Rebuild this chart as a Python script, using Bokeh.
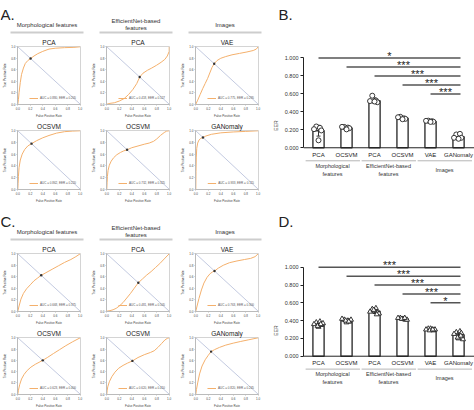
import numpy as np
from bokeh.plotting import figure
from bokeh.layouts import column, row
from bokeh.models import (Range1d, NumeralTickFormatter, FixedTicker, Span,
                          Legend, LegendItem)
from bokeh.core.properties import value
from bokeh.embed import file_html
from bokeh.resources import INLINE

FONT = "Liberation Sans"
ORANGE = "#f4b06c"
DIAG = "#bcc4dc"

# ---------------- data ----------------
feature_groups = ["Morphological features", "EfficientNet-based\nfeatures", "Images"]
bar_groups = ["Morphological\nfeatures", "EfficientNet-based\nfeatures", "Images"]
group_members = [[0, 1], [2, 3], [4, 5]]
methods = ["PCA", "OCSVM", "PCA", "OCSVM", "VAE", "GANomaly"]
roc_titles_top = ["PCA", "PCA", "VAE"]
roc_titles_bottom = ["OCSVM", "OCSVM", "GANomaly"]
roc_ticks = [0.0, 0.2, 0.4, 0.6, 0.8, 1.0]
eer_ticks = [0.0, 0.2, 0.4, 0.6, 0.8, 1.0]

# ROC curves, panel A
a_morph_pca_fpr = [0, 0.01, 0.02, 0.04, 0.06, 0.09, 0.12, 0.16, 0.205, 0.26, 0.32, 0.40, 0.50, 0.60, 0.75, 0.90, 1.0]
a_morph_pca_tpr = [0, 0.08, 0.2, 0.38, 0.52, 0.63, 0.71, 0.76, 0.795, 0.84, 0.88, 0.92, 0.96, 0.975, 0.985, 0.99, 1.0]
a_eff_pca_fpr = [0, 0.05, 0.12, 0.2, 0.28, 0.35, 0.42, 0.48, 0.527, 0.58, 0.65, 0.72, 0.8, 0.87, 0.93, 0.97, 1.0, 1.0]
a_eff_pca_tpr = [0, 0.015, 0.025, 0.055, 0.1, 0.17, 0.26, 0.36, 0.473, 0.54, 0.59, 0.63, 0.68, 0.73, 0.78, 0.84, 0.92, 1.0]
a_vae_fpr = [0, 0.03, 0.07, 0.11, 0.15, 0.19, 0.23, 0.26, 0.295, 0.34, 0.40, 0.48, 0.58, 0.70, 0.82, 0.92, 0.97, 1.0]
a_vae_tpr = [0, 0.07, 0.17, 0.27, 0.36, 0.45, 0.56, 0.64, 0.705, 0.76, 0.80, 0.83, 0.86, 0.885, 0.91, 0.935, 0.96, 1.0]
a_morph_ocsvm_fpr = [0, 0.005, 0.01, 0.02, 0.04, 0.07, 0.11, 0.16, 0.22, 0.3, 0.4, 0.5, 0.62, 0.75, 0.88, 1.0]
a_morph_ocsvm_tpr = [0, 0.1, 0.22, 0.37, 0.5, 0.6, 0.68, 0.74, 0.78, 0.83, 0.88, 0.92, 0.96, 0.985, 0.995, 1.0]
a_eff_ocsvm_fpr = [0, 0.005, 0.01, 0.02, 0.04, 0.07, 0.11, 0.16, 0.22, 0.27, 0.325, 0.4, 0.5, 0.6, 0.68, 0.75, 0.8, 0.86, 0.92, 0.96, 1.0]
a_eff_ocsvm_tpr = [0, 0.12, 0.22, 0.32, 0.41, 0.48, 0.54, 0.59, 0.63, 0.655, 0.675, 0.71, 0.74, 0.77, 0.79, 0.82, 0.86, 0.92, 0.97, 0.995, 1.0]
a_gan_fpr = [0, 0.003, 0.008, 0.015, 0.03, 0.05, 0.08, 0.115, 0.16, 0.25, 0.4, 0.6, 0.8, 1.0]
a_gan_tpr = [0, 0.3, 0.55, 0.7, 0.79, 0.84, 0.87, 0.885, 0.91, 0.94, 0.965, 0.98, 0.99, 1.0]
a_eer = [0.205, 0.527, 0.295, 0.220, 0.325, 0.115]
a_auc = [0.880, 0.418, 0.775, 0.862, 0.732, 0.933]

# ROC curves, panel C
c_morph_pca_fpr = [0, 0.02, 0.05, 0.09, 0.14, 0.2, 0.26, 0.32, 0.375, 0.45, 0.55, 0.65, 0.75, 0.85, 0.93, 1.0]
c_morph_pca_tpr = [0, 0.09, 0.21, 0.31, 0.39, 0.46, 0.53, 0.58, 0.625, 0.67, 0.73, 0.79, 0.85, 0.9, 0.95, 1.0]
c_eff_pca_fpr = [0, 0.05, 0.1, 0.15, 0.2, 0.26, 0.32, 0.38, 0.44, 0.505, 0.57, 0.64, 0.71, 0.78, 0.85, 0.92, 1.0]
c_eff_pca_tpr = [0, 0.01, 0.025, 0.05, 0.09, 0.15, 0.23, 0.31, 0.4, 0.495, 0.56, 0.63, 0.69, 0.76, 0.83, 0.91, 1.0]
c_vae_fpr = [0, 0.02, 0.05, 0.09, 0.13, 0.18, 0.23, 0.27, 0.3, 0.36, 0.44, 0.54, 0.66, 0.78, 0.88, 0.95, 1.0]
c_vae_tpr = [0, 0.09, 0.22, 0.37, 0.49, 0.59, 0.655, 0.685, 0.7, 0.75, 0.8, 0.845, 0.875, 0.9, 0.92, 0.95, 1.0]
c_morph_ocsvm_fpr = [0, 0.01, 0.03, 0.06, 0.1, 0.15, 0.21, 0.28, 0.34, 0.4, 0.48, 0.57, 0.67, 0.77, 0.88, 1.0]
c_morph_ocsvm_tpr = [0, 0.07, 0.17, 0.27, 0.35, 0.42, 0.48, 0.53, 0.565, 0.6, 0.655, 0.72, 0.79, 0.86, 0.93, 1.0]
c_eff_ocsvm_fpr = [0, 0.005, 0.015, 0.04, 0.08, 0.13, 0.19, 0.26, 0.33, 0.41, 0.5, 0.6, 0.7, 0.76, 0.82, 0.88, 0.93, 0.97, 1.0]
c_eff_ocsvm_tpr = [0, 0.06, 0.13, 0.22, 0.31, 0.39, 0.46, 0.51, 0.55, 0.59, 0.65, 0.7, 0.74, 0.77, 0.83, 0.9, 0.96, 0.99, 1.0]
c_gan_fpr = [0, 0.01, 0.03, 0.06, 0.1, 0.15, 0.2, 0.245, 0.3, 0.38, 0.48, 0.6, 0.72, 0.85, 1.0]
c_gan_tpr = [0, 0.08, 0.2, 0.36, 0.5, 0.61, 0.69, 0.755, 0.79, 0.83, 0.87, 0.905, 0.935, 0.965, 1.0]
c_eer = [0.375, 0.505, 0.300, 0.400, 0.410, 0.245]
c_auc = [0.668, 0.481, 0.763, 0.623, 0.620, 0.820]

# EER bar charts, panel B (circles) and panel D (triangles)
b_mean = [0.19, 0.22, 0.525, 0.33, 0.292, 0.122]
b_sd = [0.06, 0.01, 0.03, 0.012, 0.006, 0.022]
b_points = [[0.237, 0.222, 0.207, 0.193, 0.083],
            [0.232, 0.225, 0.233, 0.218, 0.205],
            [0.580, 0.526, 0.520, 0.507, 0.515],
            [0.345, 0.328, 0.340, 0.322, 0.318],
            [0.302, 0.296, 0.300, 0.290, 0.288],
            [0.148, 0.155, 0.111, 0.111, 0.100]]
b_starts = [0, 1, 2, 3, 4]
b_levels = [1.0, 0.9, 0.8, 0.7, 0.6]
b_stars = ["*", "***", "***", "***", "***"]

d_mean = [0.358, 0.40, 0.505, 0.42, 0.30, 0.24]
d_sd = [0.02, 0.012, 0.025, 0.008, 0.007, 0.032]
d_points = [[0.38, 0.39, 0.36, 0.35, 0.33, 0.37, 0.34, 0.36],
            [0.41, 0.40, 0.42, 0.39, 0.38, 0.41, 0.40, 0.39],
            [0.53, 0.54, 0.50, 0.49, 0.51, 0.48, 0.52, 0.47],
            [0.43, 0.42, 0.43, 0.41, 0.42, 0.41, 0.42, 0.43],
            [0.31, 0.30, 0.30, 0.29, 0.31, 0.30, 0.29, 0.30],
            [0.27, 0.28, 0.25, 0.26, 0.20, 0.19, 0.21, 0.23]]
d_starts = [0, 1, 2, 3, 4]
d_levels = [1.0, 0.9, 0.8, 0.7, 0.6]
d_stars = ["***", "***", "***", "***", "*"]

# ---------------- layout constants ----------------
COL_W = 89
ROC_L, ROC_R = 13, 9
LEFT_W = 3 * COL_W
RIGHT_W = 474 - LEFT_W
BAR_L = 36


def header(height, panel_left, panel_right, base_y):
    p = figure(width=474, height=height, x_range=Range1d(0, 474), y_range=Range1d(height, 0),
               x_axis_type=None, y_axis_type=None, min_border=0, outline_line_color=None,
               toolbar_location=None, output_backend="svg")
    p.grid.visible = False
    p.text(x=[0, LEFT_W + 11], y=[base_y + 11, base_y + 11], text=[panel_left, panel_right],
           text_font=value(FONT), text_font_size="15px", text_color="#222",
           text_baseline="alphabetic", text_align="left")
    frame_w = COL_W - ROC_L - ROC_R
    centers = [i * COL_W + ROC_L + frame_w / 2 for i in range(3)]
    p.text(x=centers, y=[base_y + 21] * 3, text=feature_groups, text_font=value(FONT),
           text_font_size="6px", text_color="#333", text_align="center",
           text_baseline="middle", text_line_height=1.1)
    p.segment(x0=[c - frame_w / 2 - 3 for c in centers], x1=[c + frame_w / 2 + 3 for c in centers],
              y0=[base_y + 29] * 3, y1=[base_y + 29] * 3, line_color="#cdcdcd", line_width=2)
    return p


def roc_panel(name, fpr, tpr, eer, auc, h, top, bottom):
    p = figure(width=COL_W, height=h, title=name,
               x_range=Range1d(-0.005, 1.005), y_range=Range1d(-0.005, 1.005),
               output_backend="svg", toolbar_location=None,
               min_border_left=ROC_L, min_border_right=ROC_R,
               min_border_top=top, min_border_bottom=bottom)
    p.title.align = "center"
    p.title.text_font_size = "6.5px"
    p.title.text_font_style = "normal"
    p.title.text_font = FONT
    p.title.text_color = "#222"
    p.title.standoff = 1
    p.grid.visible = False
    p.outline_line_color = "#d4d4d4"
    for ax in (p.xaxis[0], p.yaxis[0]):
        ax.ticker = FixedTicker(ticks=roc_ticks)
        ax.formatter = NumeralTickFormatter(format="0.0")
        ax.major_label_text_font_size = "3px"
        ax.major_label_text_font = FONT
        ax.major_label_text_color = "#444"
        ax.major_label_standoff = 1
        ax.major_tick_out = 1
        ax.major_tick_in = 0
        ax.minor_tick_out = 0
        ax.minor_tick_in = 0
        ax.axis_line_color = "#bbbbbb"
        ax.major_tick_line_color = "#bbbbbb"
        ax.axis_label_text_font_size = "3px"
        ax.axis_label_text_font = FONT
        ax.axis_label_text_font_style = "normal"
        ax.axis_label_text_color = "#444"
        ax.axis_label_standoff = 1
    p.xaxis.axis_label = "False Positive Rate"
    p.yaxis.axis_label = "True Positive Rate"
    lo, hi = roc_ticks[0], roc_ticks[-1]
    p.line(x=[lo, hi], y=[hi, lo], line_color=DIAG, line_width=0.9)
    r = p.line(x=fpr, y=tpr, line_color=ORANGE, line_width=1.0)
    p.scatter(x=[eer], y=[1 - eer], size=2.4, fill_color="#333333", line_color=None)
    leg = Legend(items=[LegendItem(label=f"AUC = {auc:.3f}, EER = {eer:.3f}", renderers=[r])],
                 location="bottom_right", label_text_font_size="3px", label_text_font=FONT,
                 label_text_color="#555", glyph_width=9, glyph_height=4, label_height=4,
                 label_standoff=2, padding=1, spacing=0, margin=4,
                 border_line_color=None, background_fill_alpha=0)
    p.add_layout(leg)
    return p


def bar_panel(h, top_border, y0, y1, means, sds, points, marker, starts, levels, stars):
    p = figure(width=RIGHT_W, height=h, x_range=Range1d(-0.536, 5.57), y_range=Range1d(y0, y1),
               x_axis_type=None, output_backend="svg", toolbar_location=None,
               min_border_left=BAR_L, min_border_right=0, min_border_top=top_border,
               min_border_bottom=0)
    p.grid.visible = False
    p.outline_line_color = None
    ax = p.yaxis[0]
    ax.ticker = FixedTicker(ticks=eer_ticks)
    ax.formatter = NumeralTickFormatter(format="0.000")
    ax.bounds = (eer_ticks[0], eer_ticks[-1])
    ax.major_label_text_font_size = "5.5px"
    ax.major_label_text_font = FONT
    ax.major_label_text_color = "#333"
    ax.major_label_standoff = 2
    ax.major_tick_out = 3
    ax.major_tick_in = 0
    ax.minor_tick_out = 0
    ax.minor_tick_in = 0
    ax.axis_line_color = "#222"
    ax.major_tick_line_color = "#222"
    ax.axis_label = "EER"
    ax.axis_label_text_font_size = "5px"
    ax.axis_label_text_font = FONT
    ax.axis_label_text_font_style = "normal"
    ax.axis_label_standoff = 3
    idx = list(range(len(methods)))
    p.vbar(x=idx, top=means, width=0.4, fill_color="white", line_color="#333", line_width=1.4)
    p.add_layout(Span(location=0, dimension="width", line_color="#222", line_width=1))
    lower = [m - s for m, s in zip(means, sds)]
    upper = [m + s for m, s in zip(means, sds)]
    p.segment(x0=idx, y0=lower, x1=idx, y1=upper, line_color="#333", line_width=1)
    p.scatter(x=idx + idx, y=lower + upper, marker="dash", size=4, line_color="#333", line_width=1)
    jitter = [-0.08, 0.05, -0.16, 0.1, 0.0, 0.16, -0.03, 0.08]
    px, py = [], []
    for i, pts in enumerate(points):
        for k, v in enumerate(pts):
            px.append(i + jitter[k % len(jitter)])
            py.append(v)
    p.scatter(x=px, y=py, marker=marker, size=5, fill_color="white", line_color="#222", line_width=0.9)
    last = len(methods) - 1
    end = last + 0.07
    p.segment(x0=starts, y0=levels, x1=[end] * len(starts), y1=levels, line_color="#555", line_width=1.5)
    p.text(x=[(s + end) / 2 for s in starts], y=[l + 0.02 for l in levels], text=stars,
           text_font=value(FONT), text_font_size="11px", text_color="#222",
           text_align="center", text_baseline="alphabetic")
    p.text(x=idx, y=[-0.075] * len(idx), text=methods, text_font=value(FONT), text_font_size="6px",
           text_color="#222", text_align="center", text_baseline="middle")
    gx0 = [g[0] - 0.46 for g in group_members]
    gx1 = [g[-1] + 0.48 for g in group_members]
    p.segment(x0=gx0, y0=[-0.145] * 3, x1=gx1, y1=[-0.145] * 3, line_color="#b5b5b5", line_width=1)
    p.text(x=[sum(g) / len(g) for g in group_members], y=[-0.245] * 3, text=bar_groups,
           text_font=value(FONT), text_font_size="5.5px", text_color="#333",
           text_align="center", text_baseline="middle", text_line_height=1.25)
    return p


def roc_block(curves, eers, aucs, h1, h2, b1, b2):
    r1 = [roc_panel(roc_titles_top[i], *curves[i], eers[i], aucs[i], h1, 9, b1) for i in range(3)]
    r2 = [roc_panel(roc_titles_bottom[i], *curves[3 + i], eers[3 + i], aucs[3 + i], h2, 8, b2) for i in range(3)]
    return column(row(*r1), row(*r2))


a_curves = [(a_morph_pca_fpr, a_morph_pca_tpr), (a_eff_pca_fpr, a_eff_pca_tpr), (a_vae_fpr, a_vae_tpr),
            (a_morph_ocsvm_fpr, a_morph_ocsvm_tpr), (a_eff_ocsvm_fpr, a_eff_ocsvm_tpr), (a_gan_fpr, a_gan_tpr)]
c_curves = [(c_morph_pca_fpr, c_morph_pca_tpr), (c_eff_pca_fpr, c_eff_pca_tpr), (c_vae_fpr, c_vae_tpr),
            (c_morph_ocsvm_fpr, c_morph_ocsvm_tpr), (c_eff_ocsvm_fpr, c_eff_ocsvm_tpr), (c_gan_fpr, c_gan_tpr)]

top_header = header(36, "A.", "B.", 3)
block_a = roc_block(a_curves, a_eer, a_auc, 84, 85, 12, 12)
fig_b = bar_panel(169, 9, -0.643, 1.139, b_mean, b_sd, b_points, "circle", b_starts, b_levels, b_stars)

bottom_header = header(38, "C.", "D.", 5)
block_c = roc_block(c_curves, c_eer, c_auc, 84, 83, 12, 11)
fig_d = bar_panel(167, 7, -0.61, 1.188, d_mean, d_sd, d_points, "triangle", d_starts, d_levels, d_stars)

layout = column(top_header, row(block_a, fig_b), bottom_header, row(block_c, fig_d))

open("out.html", "w").write(file_html(layout, INLINE))
